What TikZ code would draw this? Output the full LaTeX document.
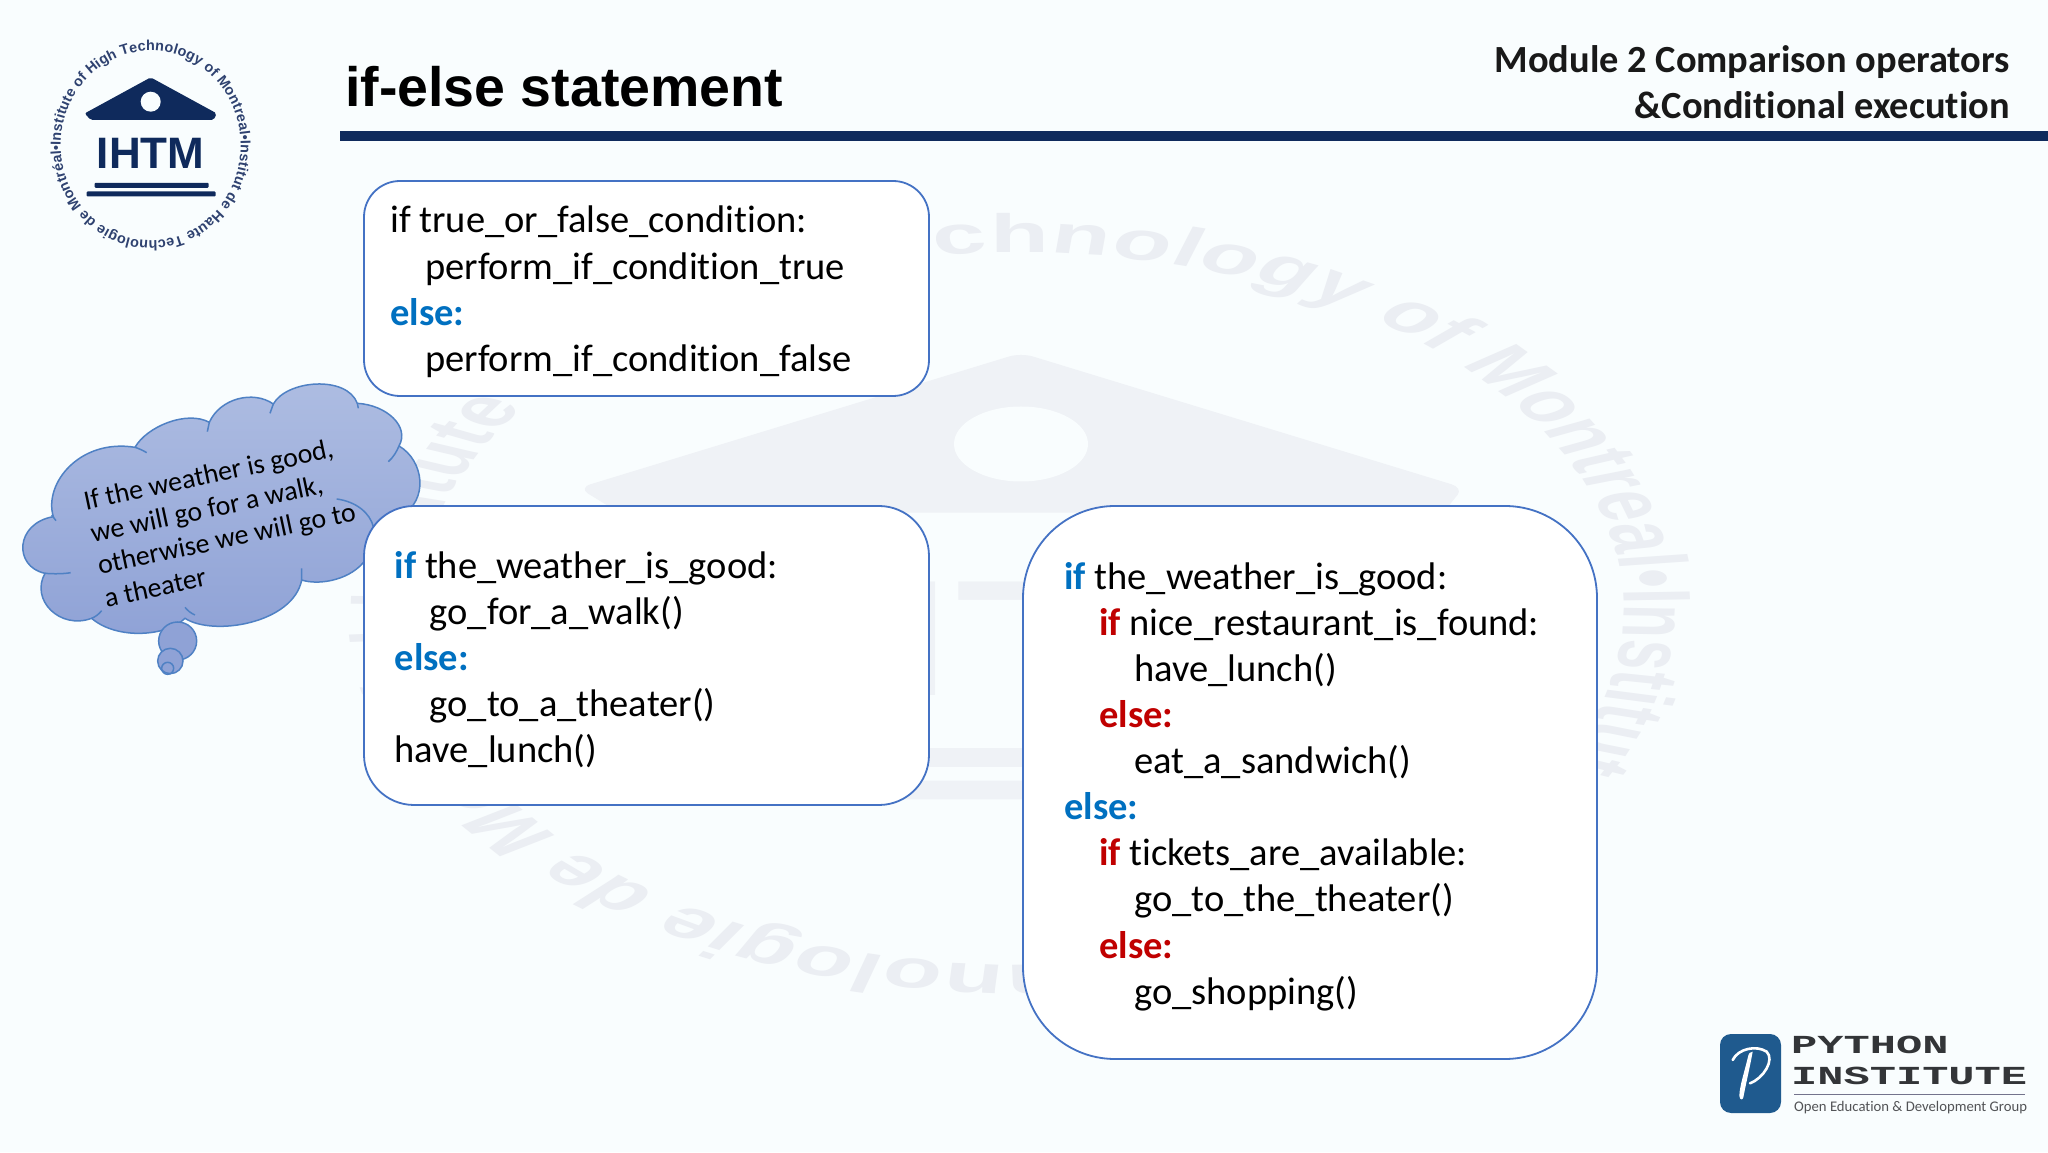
\documentclass[tikz,border=0pt]{standalone}
\usepackage{fontspec}
\usepackage{graphicx}
\setmainfont[Ligatures=NoCommon]{Carlito}
\newfontfamily\arialfont{Liberation Sans}
\newfontfamily\monofont{Liberation Mono}
\usetikzlibrary{decorations.text}
\definecolor{bgcol}{HTML}{F9FDFE}
\definecolor{navy}{HTML}{0F2A5C}
\definecolor{ringcol}{HTML}{2F4270}
\definecolor{wmark}{HTML}{EFF2F6}
\definecolor{wring}{HTML}{EBEEF3}
\definecolor{boxline}{HTML}{4472C4}
\definecolor{kwblue}{HTML}{0070C0}
\definecolor{kwred}{HTML}{C00000}
\definecolor{cloudtop}{HTML}{AEBDE2}
\definecolor{cloudbot}{HTML}{8FA2D6}
\definecolor{cloudline}{HTML}{4F81C4}
\definecolor{pyblue}{HTML}{1F5A8E}
\definecolor{pydark}{HTML}{333538}
\newcommand{\kb}[1]{\textcolor{kwblue}{\textbf{#1}}}
\newcommand{\kr}[1]{\textcolor{kwred}{\textbf{#1}}}
\newcommand{\ind}{\hspace*{35pt}}
\newcommand{\logodraw}[2]{%
  \fill[#1,rounded corners=2pt] (0,68.3) -- (-66,32.3) -- (-60,25.7) -- (63,25.7) -- (66,32.3) -- cycle;
  \fill[bgcol] (0,44) circle[radius=10];
  \node[text=#1,font=\arialfont\bfseries\fontsize{44}{44}\selectfont,inner sep=0] (ihtm#1) at (0,-8) {IHTM};
  \fill[#1,rounded corners=1pt] (-56,-37.1) rectangle (58,-42.1);
  \fill[#1,rounded corners=1pt] (-64,-45.8) rectangle (65,-50.8);
  \path[decorate,decoration={text along path,text align={fit to path},
    text={|\arialfont\bfseries\fontsize{14.4}{14.4}\selectfont\color{#2}|Institute of High Technology of Montreal•Institut de Haute Technologie de Montréal•}}]
    (-90,0) arc[start angle=180,end angle=-180,x radius=90,y radius=95];
}
\tikzset{
  codebox/.style={draw=boxline,line width=1.8pt,fill=white},
  codetext/.style={anchor=north west,inner sep=0,align=left,text=black,font=\fontsize{38.5}{46.1}\selectfont},
}
\begin{document}
\begin{tikzpicture}[x=1pt,y=1pt]
\useasboundingbox (0,0) rectangle (2048,1152);
\fill[bgcol] (0,0) rectangle (2048,1152);
% watermark
\begin{scope}[transform canvas={xshift=1021pt,yshift=543pt,xscale=6.7,yscale=3.75}]
\logodraw{wmark}{wring}
\end{scope}
% small logo
\begin{scope}[transform canvas={xshift=150.7pt,yshift=1006.3pt}]
\logodraw{navy}{ringcol}
\end{scope}
\begin{scope}[y=-1pt,shift={(0pt,1152pt)}]
% header
\node[anchor=base west,inner sep=0,font=\arialfont\bfseries\fontsize{55.5}{55.5}\selectfont,text=black] (title) at (345,107) {if-else statement};
\node[anchor=base east,inner sep=0,font=\bfseries\fontsize{38.4}{38.4}\selectfont,text=black!90] (mod1) at (2010,73) {Module 2 Comparison operators};
\node[anchor=base east,inner sep=0,font=\bfseries\fontsize{38.4}{38.4}\selectfont,text=black!90] (mod2) at (2010,119) {\&Conditional execution};
\fill[navy] (340,131) rectangle (2048,141);
% cloud
\begin{scope}[x=0.33333pt,y=-0.33333pt,shift={(0pt,-370pt)}]
\draw[cloudline,line width=1.5pt,top color=cloudtop,bottom color=cloudbot]
 (160,440) .. controls (130,340) and (240,205) .. (405,232)
 .. controls (440,170) and (560,120) .. (628,157)
 .. controls (660,85) and (760,60) .. (820,102)
 .. controls (860,30) and (1040,15) .. (1072,100)
 .. controls (1160,105) and (1230,170) .. (1197,228)
 .. controls (1270,270) and (1290,390) .. (1200,440)
 -- (1090,578)
 .. controls (1040,635) and (950,645) .. (905,630)
 .. controls (880,760) and (640,800) .. (555,745)
 .. controls (500,800) and (350,810) .. (275,745)
 .. controls (180,780) and (90,690) .. (135,610)
 .. controls (40,590) and (45,460) .. (160,440) -- cycle;
\draw[cloudline,line width=1.5pt]
 (405,232) .. controls (418,236) and (430,242) .. (440,248)
 (628,157) -- (622,185)
 (820,102) -- (810,130)
 (1072,100) -- (1075,115)
 (1197,228) .. controls (1190,245) and (1180,262) .. (1165,275)
 (1010,387) .. controls (1070,395) and (1110,430) .. (1120,470)
 (905,595) -- (905,630)
 (555,712) .. controls (563,722) and (573,730) .. (585,735)
 (305,722) .. controls (297,732) and (287,740) .. (275,745)
 (135,610) .. controls (160,612) and (190,612) .. (212,608)
 (155,435) -- (168,452);
\draw[cloudline,line width=1.5pt,fill=cloudbot] (533,813) circle[radius=57];
\draw[cloudline,line width=1.5pt,fill=cloudbot] (511,873) circle[radius=38];
\draw[cloudline,line width=1.5pt] (503,895) circle[radius=18];
\end{scope}
\node[rotate=12,inner sep=0,align=left,text=black,font=\fontsize{27.9}{33}\selectfont] (cloudtext) at (223,522)
 {If the weather is good,\\we will go for a walk,\\otherwise we will go to\\a theater};
% boxes
\draw[codebox,rounded corners=36pt] (364,181) rectangle (929,396);
\draw[codebox,rounded corners=50pt] (364,506) rectangle (929,805);
\draw[codebox,rounded corners=92pt] (1023,506) rectangle (1597,1059);
\node[codetext] (code1) at (390,206) {if true\_or\_false\_condition:\\\ind perform\_if\_condition\_true\\\kb{else:}\\\ind perform\_if\_condition\_false};
\node[codetext] (code2) at (394.5,551) {\kb{if} the\_weather\_is\_good:\\\ind go\_for\_a\_walk()\\\kb{else:}\\\ind go\_to\_a\_theater()\\have\_lunch()};
\node[codetext] (code3) at (1064,562) {\kb{if} the\_weather\_is\_good:\\\ind \kr{if} nice\_restaurant\_is\_found:\\\ind\ind have\_lunch()\\\ind \kr{else:}\\\ind\ind eat\_a\_sandwich()\\\kb{else:}\\\ind \kr{if} tickets\_are\_available:\\\ind\ind go\_to\_the\_theater()\\\ind \kr{else:}\\\ind\ind go\_shopping()};
% python institute logo
\fill[pyblue,rounded corners=11pt] (1720,1034) rectangle (1781,1113);
\begin{scope}[x=0.33333pt,y=-0.33333pt,shift={(1700pt,-1010pt)}]
\draw[white,line width=2.6pt,line cap=round] (98,150) .. controls (115,115) and (170,105) .. (200,125) .. controls (225,150) and (190,205) .. (150,220);
\fill[white] (158,125) .. controls (150,125) and (146,130) .. (144,140) .. controls (135,180) and (118,230) .. (118,258) .. controls (120,272) and (128,270) .. (130,262) .. controls (138,220) and (150,170) .. (158,125) -- cycle;
\end{scope}
\node[anchor=base west,inner sep=0,text=pydark,font=\monofont\bfseries\fontsize{26}{26}\selectfont] (py1) at (1791,1053) {\scalebox{1.68}[1]{PYTHON}};
\node[anchor=base west,inner sep=0,text=pydark,font=\monofont\bfseries\fontsize{26}{26}\selectfont] (py2) at (1791,1084) {\scalebox{1.68}[1]{INSTITUTE}};
\draw[color=gray!90!blue,line width=1pt] (1794,1094) -- (2025,1094);
\node[anchor=base west,inner sep=0,text=pydark!85,font=\fontsize{14.7}{14.7}\selectfont] (py3) at (1794,1111) {Open Education \& Development Group};
\end{scope}
\end{tikzpicture}
\end{document}
